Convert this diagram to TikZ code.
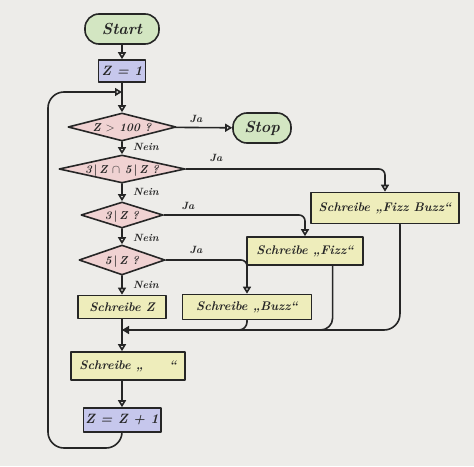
\documentclass[tikz,border=0pt]{standalone}
\usetikzlibrary{arrows.meta,shapes.geometric,calc}
\definecolor{board}{HTML}{EDECE9}
\definecolor{ink}{HTML}{262626}
\definecolor{gfill}{HTML}{D3E6C2}
\definecolor{bfill}{HTML}{C6C7EC}
\definecolor{pfill}{HTML}{F0D2D2}
\definecolor{yfill}{HTML}{EEEDBB}
\newcommand{\dvd}{\,{\upshape|}\,}
\tikzset{
  hand/.style={font=\fontsize{12.5}{14}\selectfont\bfseries\itshape},
  term/.style={draw, fill=gfill, rounded corners=14pt, inner sep=2pt, font=\fontsize{16}{18}\selectfont\bfseries\itshape},
  calcbox/.style={draw, fill=bfill, inner sep=2pt, font=\fontsize{13.5}{15}\selectfont\bfseries\itshape},
  outbox/.style={hand, draw, fill=yfill, inner sep=2pt},
  decbox/.style={draw, fill=pfill, diamond, aspect=4, inner sep=0pt, text height=8pt, text depth=0pt, font=\fontsize{11.5}{13}\selectfont\bfseries\itshape},
  arr/.style={-{Triangle[open,length=7pt,width=8pt]}},
  lab/.style={font=\fontsize{10.5}{12}\selectfont\bfseries\itshape}
}
\begin{document}
\begin{tikzpicture}[x=1pt,y=-1pt,line width=1.6pt,color=ink,line join=round,line cap=round]
\fill[board] (0,0) rectangle (474,466);
\useasboundingbox (0,0) rectangle (474,466);

\node[term, minimum width=74pt, minimum height=30pt] (start) at (122,29) {Start};
\node[calcbox, minimum width=47pt, minimum height=22pt] (z1) at (122,71) {Z = 1};
\coordinate (loopin) at (122,92);
\node[decbox, minimum width=108pt, minimum height=28pt] (d1) at (122,127) {Z $>$ 100 ?};
\node[term, minimum width=58pt, minimum height=30pt] (stop) at (262,128) {Stop};
\node[decbox, minimum width=126pt, minimum height=28pt] (d2) at (122,169) {3\dvd Z $\cap$ 5\dvd Z ?};
\node[outbox, minimum width=148pt, minimum height=31pt] (fb) at (385,208) {Schreibe „Fizz Buzz“};
\node[decbox, minimum width=82pt, minimum height=26pt] (d3) at (122,215) {3\dvd Z ?};
\node[outbox, minimum width=116pt, minimum height=28pt] (fizz) at (305,251) {Schreibe „Fizz“};
\node[decbox, minimum width=86pt, minimum height=30pt] (d4) at (122,260) {5\dvd Z ?};
\node[outbox, minimum width=129pt, minimum height=25pt] (buzz) at (247,307) {Schreibe „Buzz“};
\node[outbox, minimum width=88pt, minimum height=23pt] (sz) at (122,307) {Schreibe Z};
\coordinate (m) at (122,330);
\node[outbox, minimum width=114pt, minimum height=28pt] (sp) at (128,366) {Schreibe „\ \ \ \ \ “};
\node[calcbox, minimum width=72pt, minimum height=24pt] (inc) at (122,420) {Z = Z + 1};
\coordinate (fizzout) at ($(fizz.south)!0.47!(fizz.south east)$);
\coordinate (fbout) at ($(fb.south)!0.2!(fb.south east)$);
\coordinate (spin) at (sp.north -| m);
\coordinate (spout) at (sp.south -| m);

\draw[arr] (start) -- (z1);
\draw[arr] (z1) -- (d1);
\draw[arr] (d1) -- (stop);
\draw[arr] (d1) -- (d2);
\draw[arr] (d2) -- (d3);
\draw[arr] (d3) -- (d4);
\draw[arr] (d4) -- (sz);
\draw[arr, rounded corners=6pt] (d2.east) -| (fb.north);
\draw[arr, rounded corners=6pt] (d3.east) -| (fizz.north);
\draw[arr, rounded corners=6pt] (d4.east) -| (buzz.north);
\draw (sz.south) -- (m);
\draw[arr] (m) -- (spin);
\draw[arr] (spout) -- (inc.north);
\draw[rounded corners=8pt] (buzz.south) |- (m);
\draw[rounded corners=12pt] (fizzout) |- (m);
\draw[arr, rounded corners=16pt] (fbout) |- (m);
\draw[arr, rounded corners=16pt] (inc.south) |- (48,448) |- (loopin);

\node[lab] (ja1) at (196,119) {Ja};
\node[lab] (nein1) at (146,147) {Nein};
\node[lab] (ja2) at (216,158) {Ja};
\node[lab] (nein2) at (146,192) {Nein};
\node[lab] (ja3) at (188,206) {Ja};
\node[lab] (nein3) at (146,238) {Nein};
\node[lab] (ja4) at (196,250) {Ja};
\node[lab] (nein4) at (146,285) {Nein};
\end{tikzpicture}
\end{document}
